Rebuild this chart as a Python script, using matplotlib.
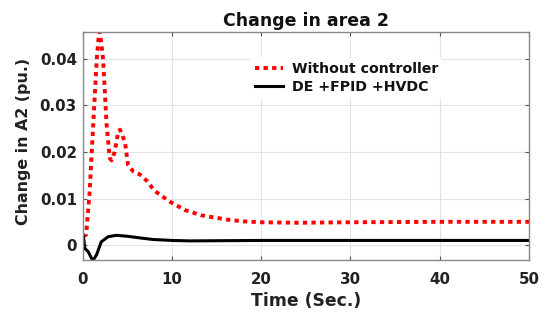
import matplotlib
matplotlib.use('Agg')
import matplotlib.pyplot as plt

# 读取的数据 (估计值)
t_red = [0, 0.1, 0.4, 0.5, 0.8, 1.0, 1.2, 1.4, 1.6, 1.9, 2.3, 2.5, 2.7, 3.05, 3.25,
         3.6, 4.0, 4.2, 4.75, 5.1, 5.7, 6.4, 7.2, 8.1, 9.8, 11.5, 13.3, 16.1, 18,
         20, 24, 30, 40, 50]
v_red = [0, 0.002, 0.0022, 0.0043, 0.0115, 0.0187, 0.0258, 0.033, 0.040, 0.0468,
         0.040, 0.033, 0.0258, 0.0187, 0.0182, 0.020, 0.0243, 0.0248, 0.0222,
         0.0172, 0.0158, 0.0152, 0.0138, 0.0116, 0.0093, 0.0075, 0.0064, 0.0055,
         0.0051, 0.0049, 0.0048, 0.0049, 0.005, 0.005]

t_black = [0, 0.1, 0.26, 0.63, 1.0, 1.2, 1.57, 2.1, 2.87, 3.8, 5, 6.6, 7.9, 10, 12, 20, 50]
v_black = [0.0012, 0.002, -0.0007, -0.0014, -0.0028, -0.0032, -0.0021, 0.0007,
           0.0018, 0.0021, 0.0019, 0.0015, 0.0012, 0.001, 0.0009, 0.001, 0.001]

labels = ['Without controller', 'DE +FPID +HVDC']
x_ticks = [0, 10, 20, 30, 40, 50]
y_ticks = [0, 0.01, 0.02, 0.03, 0.04]
y_tick_labels = ['0', '0.01', '0.02', '0.03', '0.04']

plt.rcParams['font.family'] = ['DejaVu Sans']
plt.rcParams['font.weight'] = 'bold'

fig = plt.figure(figsize=(5.5, 3.19), dpi=100)
ax = fig.add_axes([0.15, 0.185, 0.812, 0.715])

ax.plot(t_red, v_red, color='#ff0000', lw=2.8, linestyle=(0, (1.1, 1.1)), label=labels[0])
ax.plot(t_black, v_black, color='black', lw=2.2, label=labels[1])

ax.set_xlim(0, 50)
ax.set_ylim(-0.0032, 0.0458)
ax.set_xticks(x_ticks)
ax.set_yticks(y_ticks)
ax.set_yticklabels(y_tick_labels)
ax.tick_params(direction='in', top=True, right=True, length=3, width=0.8,
               color='#555555', labelsize=10.8)
ax.tick_params(axis='x', pad=9)
ax.tick_params(axis='y', pad=4)
for lab in ax.get_xticklabels() + ax.get_yticklabels():
    lab.set_fontweight('bold')
    lab.set_color('#222222')
ax.grid(True, color='#e3e3e3', lw=0.8)
for s in ax.spines.values():
    s.set_color('#888888')
    s.set_linewidth(1.0)

ax.set_title('Change in area 2', fontsize=12.5, fontweight='bold', pad=4, color='#111111')
ax.set_xlabel('Time (Sec.)', fontsize=12.4, fontweight='bold', labelpad=3, color='#222222')
ax.set_ylabel('Change in A2 (pu.)', fontsize=11.4, fontweight='bold', labelpad=6,
              color='#222222', y=0.52)

leg = ax.legend(loc='upper left', bbox_to_anchor=(0.376, 0.886), frameon=True,
                fontsize=10.2, handlelength=2.0, handletextpad=0.6,
                borderpad=0.3, labelspacing=0.3, borderaxespad=0)
leg.get_frame().set_facecolor('white')
leg.get_frame().set_edgecolor('none')
leg.get_frame().set_alpha(1)
for txt in leg.get_texts():
    txt.set_fontweight('bold')
    txt.set_color('#111111')

plt.savefig('out.png')
